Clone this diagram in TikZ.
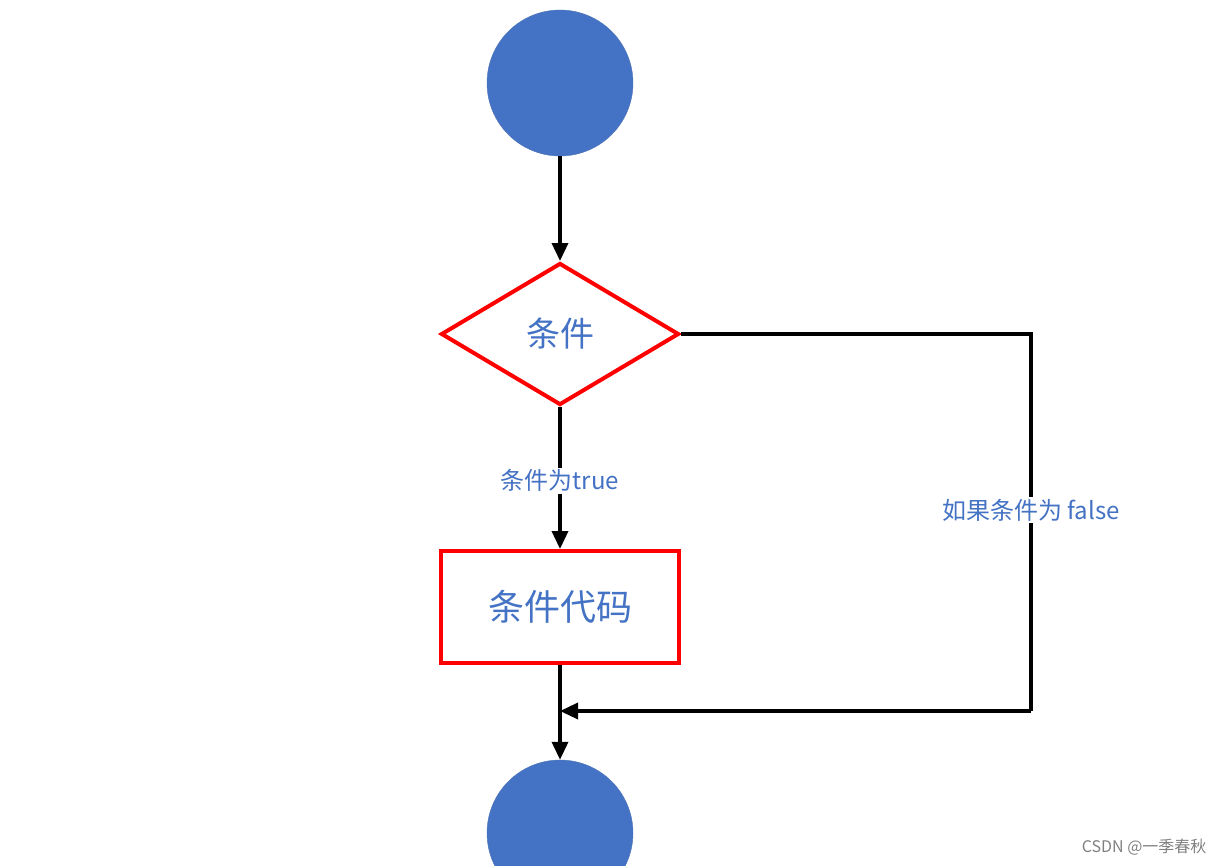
\documentclass[tikz,border=0pt]{standalone}
\usepackage{fontspec}
\newfontfamily\cjk{Noto Sans CJK SC}
\usetikzlibrary{shapes.geometric,arrows.meta}
\definecolor{cblue}{RGB}{68,114,196}
\begin{document}
\begin{tikzpicture}[x=1pt,y=-1pt,
  circ/.style={circle,fill=cblue,draw=cblue!80!gray,minimum size=146pt,inner sep=0},
  redbox/.style={draw=red,line width=4pt,fill=white,text=cblue,inner sep=0},
  conn/.style={line width=3.5pt,-{Triangle[length=18pt,width=16pt]}},
  lbl/.style={fill=white,text=cblue,font=\cjk\fontsize{24}{28}\selectfont,inner sep=2pt}]
\useasboundingbox (0,0) rectangle (1223,865);
\node[circ] (start) at (560,83) {};
\node[redbox,diamond,minimum width=238pt,minimum height=142pt,font=\cjk\fontsize{34}{40}\selectfont] (cond) at (560,334) {条件};
\node[redbox,minimum width=238pt,minimum height=112pt,font=\cjk\fontsize{36}{42}\selectfont] (code) at (560,607) {条件代码};
\node[circ] (end) at (560,833) {};
\coordinate (r1) at (1031,334);
\coordinate (r2) at (1031,711);
\coordinate (m) at (560,711);
\draw[conn] (start) -- (cond);
\draw[conn] (cond) -- node[lbl,pos=0.52]{条件为true} (code);
\draw[conn] (code) -- (end);
\draw[line width=3.5pt] (cond.east) -- (r1) -- (r2);
\draw[conn] (r2) -- (m);
\node[lbl] at (1031,510) {如果条件为 false};
\node[text=gray,font=\cjk\fontsize{16}{18}\selectfont,anchor=east] (wm) at (1210,847) {CSDN @一季春秋};
\end{tikzpicture}
\end{document}
